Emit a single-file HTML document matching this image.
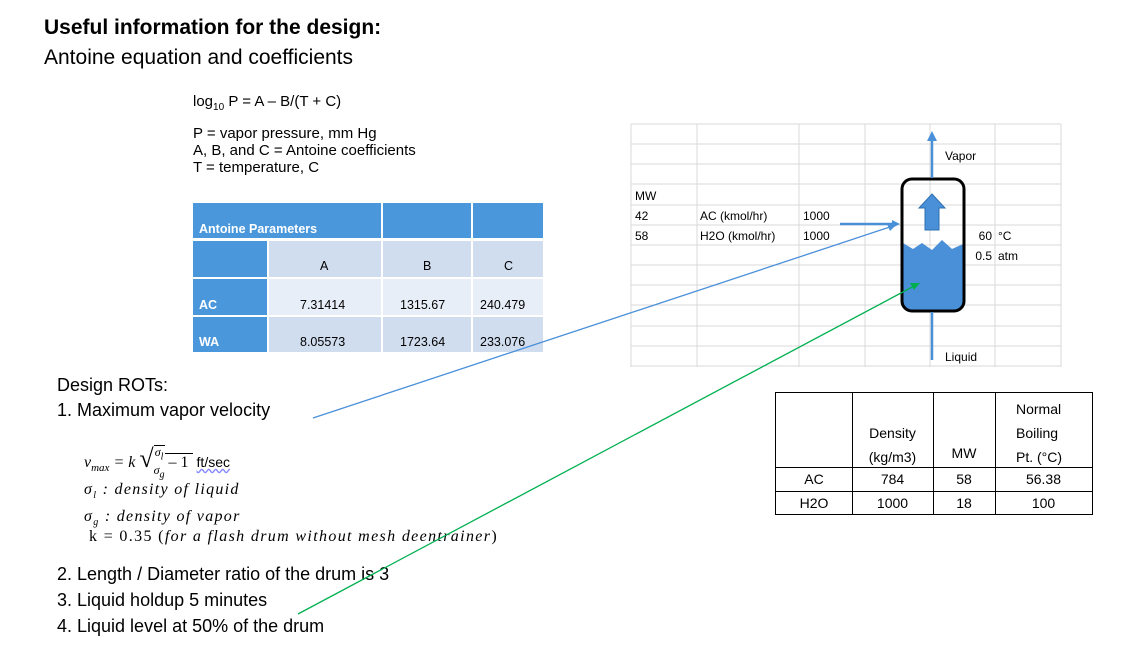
<!DOCTYPE html>
<html><head><meta charset="utf-8"><style>
body{margin:0;width:1129px;height:662px;background:#fff;position:relative;overflow:hidden;font-family:"Liberation Sans",Arial,sans-serif;color:#000}
.a{position:absolute;white-space:nowrap}
.t{font-family:"Liberation Sans",sans-serif}
.m{font-family:"Liberation Serif",serif;font-style:italic;font-size:16px}
</style></head><body>
<div class="a" style="left:44px;top:16px;font-size:21px;font-weight:bold">Useful information for the design:</div>
<div class="a" style="left:44px;top:46px;font-size:21px">Antoine equation and coefficients</div>
<div class="a" style="left:193px;top:93px;font-size:15px">log<sub style="font-size:10px">10</sub> P = A – B/(T + C)</div>
<div class="a" style="left:193px;top:125px;font-size:15px;line-height:17px">P = vapor pressure, mm Hg<br>A, B, and C = Antoine coefficients<br>T = temperature, C</div>

<div class="a" style="left:193px;top:203px;width:350px;height:149px;font-size:12.5px">
<div class="a" style="left:0;top:0;width:188px;height:35px;background:#4a97dc"></div>
<div class="a" style="left:190px;top:0;width:88px;height:35px;background:#4a97dc"></div>
<div class="a" style="left:280px;top:0;width:70px;height:35px;background:#4a97dc"></div>
<div class="a" style="left:6px;top:19px;color:#fff;font-weight:bold">Antoine Parameters</div>
<div class="a" style="left:0;top:38px;width:74px;height:36px;background:#4a97dc"></div>
<div class="a" style="left:76px;top:38px;width:112px;height:36px;background:#d0ddef"></div>
<div class="a" style="left:190px;top:38px;width:88px;height:36px;background:#d0ddef"></div>
<div class="a" style="left:280px;top:38px;width:70px;height:36px;background:#d0ddef"></div>
<div class="a" style="left:0;top:76px;width:74px;height:36px;background:#4a97dc"></div>
<div class="a" style="left:76px;top:76px;width:112px;height:36px;background:#e8eef8"></div>
<div class="a" style="left:190px;top:76px;width:88px;height:36px;background:#e8eef8"></div>
<div class="a" style="left:280px;top:76px;width:70px;height:36px;background:#e8eef8"></div>
<div class="a" style="left:0;top:114px;width:74px;height:35px;background:#4a97dc"></div>
<div class="a" style="left:76px;top:114px;width:112px;height:35px;background:#d0ddef"></div>
<div class="a" style="left:190px;top:114px;width:88px;height:35px;background:#d0ddef"></div>
<div class="a" style="left:280px;top:114px;width:70px;height:35px;background:#d0ddef"></div>
<div class="a" style="left:127px;top:56px">A</div><div class="a" style="left:230px;top:56px">B</div><div class="a" style="left:311px;top:56px">C</div>
<div class="a" style="left:6px;top:95px;color:#fff;font-weight:bold">AC</div>
<div class="a" style="left:107px;top:95px">7.31414</div><div class="a" style="left:207px;top:95px">1315.67</div><div class="a" style="left:287px;top:95px">240.479</div>
<div class="a" style="left:6px;top:132px;color:#fff;font-weight:bold">WA</div>
<div class="a" style="left:107px;top:132px">8.05573</div><div class="a" style="left:207px;top:132px">1723.64</div><div class="a" style="left:287px;top:132px">233.076</div>
</div>

<div class="a" style="left:57px;top:373px;font-size:18px;line-height:25px">Design ROTs:<br>1. Maximum vapor velocity</div>
<div class="a m" style="left:84px;top:444px">v<sub style="font-size:11px">max</sub> = k <span style="font-size:26px;font-style:normal">√</span><span style="display:inline-block;border-top:1px solid #000;font-size:12px;vertical-align:middle;text-align:center;line-height:12px">σ<sub>l</sub><br>σ<sub>g</sub></span><span style="border-top:1px solid #000;vertical-align:middle;font-style:normal"> – 1 </span> &nbsp;<span class="t" style="font-style:normal;font-size:14px;text-decoration:underline wavy #88f">ft/sec</span></div>
<div class="a m" style="left:84px;top:479px;line-height:21px;letter-spacing:1.3px">σ<sub style="font-size:10px">l</sub> : density of liquid<br>σ<sub style="font-size:10px">g</sub> : density of vapor</div>
<div class="a m" style="left:89px;top:528px;letter-spacing:1.35px"><span style="font-style:normal">k = 0.35 (</span>for a flash drum without mesh deentrainer<span style="font-style:normal">)</span></div>
<div class="a" style="left:57px;top:561px;font-size:18px;line-height:26px">2. Length / Diameter ratio of the drum is 3<br>3. Liquid holdup 5 minutes<br>4. Liquid level at 50% of the drum</div>

<svg class="a" style="left:0;top:0" width="1129" height="662">
<g stroke="#d9d9d9" stroke-width="1">
<line x1="631" y1="124" x2="631" y2="367"/><line x1="697" y1="124" x2="697" y2="367"/><line x1="799" y1="124" x2="799" y2="367"/><line x1="865" y1="124" x2="865" y2="367"/><line x1="930" y1="124" x2="930" y2="367"/><line x1="995" y1="124" x2="995" y2="367"/><line x1="1061" y1="124" x2="1061" y2="367"/>
<line x1="631" y1="124" x2="1061" y2="124"/><line x1="631" y1="144" x2="1061" y2="144"/><line x1="631" y1="164" x2="1061" y2="164"/><line x1="631" y1="184" x2="1061" y2="184"/><line x1="631" y1="205" x2="1061" y2="205"/><line x1="631" y1="225" x2="1061" y2="225"/><line x1="631" y1="245" x2="1061" y2="245"/><line x1="631" y1="265" x2="1061" y2="265"/><line x1="631" y1="285" x2="1061" y2="285"/><line x1="631" y1="305" x2="1061" y2="305"/><line x1="631" y1="326" x2="1061" y2="326"/><line x1="631" y1="346" x2="1061" y2="346"/><line x1="631" y1="366" x2="1061" y2="366"/>
</g>
<g font-size="12" font-family="Liberation Sans,sans-serif">
<text x="635" y="200">MW</text><text x="635" y="220">42</text><text x="635" y="240">58</text>
<text x="700" y="220">AC (kmol/hr)</text><text x="700" y="240">H2O (kmol/hr)</text>
<text x="803" y="220">1000</text><text x="803" y="240">1000</text>
<text x="945" y="160">Vapor</text><text x="945" y="361">Liquid</text>
<text x="992" y="240" text-anchor="end">60</text><text x="998" y="240">°C</text>
<text x="992" y="260" text-anchor="end">0.5</text><text x="998" y="260">atm</text>
</g>
<path d="M903,243 L913,249 L922,243 L932,250 L942,240 L952,249 L963,244 L963,303 Q963,311 955,311 L911,311 Q903,311 903,303 Z" fill="#4a90d9"/>
<rect x="902" y="179" width="62" height="132" rx="10" fill="none" stroke="#000" stroke-width="3"/>
<g stroke="#4a90d9" stroke-width="2.5" fill="#4a90d9">
<line x1="932" y1="178" x2="932" y2="140"/><polygon points="927,141 937,141 932,131" stroke="none"/>
<line x1="932" y1="312" x2="932" y2="360"/>
<line x1="840" y1="224" x2="893" y2="224"/><polygon points="892,220 892,228 900,224" stroke="none"/>
</g>
<polygon points="925,230 939,230 939,208 945,208 932,194 919,208 925,208" fill="#4a90d9" stroke="#2e6fb0"/>
<line x1="313" y1="418" x2="893" y2="226" stroke="#4a90d9" stroke-width="1.3"/>
<polygon points="897,224 887,224 890,231" fill="#4a90d9"/>
<line x1="298" y1="614" x2="916" y2="285" stroke="#00b050" stroke-width="1.3"/>
<polygon points="920,283 910,283 914,290" fill="#00b050"/>
</svg>

<div class="a" style="left:775px;top:392px;width:318px;height:123px;border:1px solid #000;box-sizing:border-box;font-size:14px">
<div class="a" style="left:76px;top:0;width:1px;height:121px;background:#000"></div>
<div class="a" style="left:157px;top:0;width:1px;height:121px;background:#000"></div>
<div class="a" style="left:219px;top:0;width:1px;height:121px;background:#000"></div>
<div class="a" style="left:0;top:74px;width:316px;height:1px;background:#000"></div>
<div class="a" style="left:0;top:98px;width:316px;height:1px;background:#000"></div>
<div class="a" style="left:76px;top:28px;width:81px;text-align:center;line-height:24px">Density<br>(kg/m3)</div>
<div class="a" style="left:157px;top:52px;width:62px;text-align:center">MW</div>
<div class="a" style="left:240px;top:4px;line-height:24px">Normal<br>Boiling<br>Pt. (°C)</div>
<div class="a" style="left:0;top:78px;width:76px;text-align:center">AC</div>
<div class="a" style="left:76px;top:78px;width:81px;text-align:center">784</div>
<div class="a" style="left:157px;top:78px;width:62px;text-align:center">58</div>
<div class="a" style="left:219px;top:78px;width:97px;text-align:center">56.38</div>
<div class="a" style="left:0;top:102px;width:76px;text-align:center">H2O</div>
<div class="a" style="left:76px;top:102px;width:81px;text-align:center">1000</div>
<div class="a" style="left:157px;top:102px;width:62px;text-align:center">18</div>
<div class="a" style="left:219px;top:102px;width:97px;text-align:center">100</div>
</div>
</body></html>
